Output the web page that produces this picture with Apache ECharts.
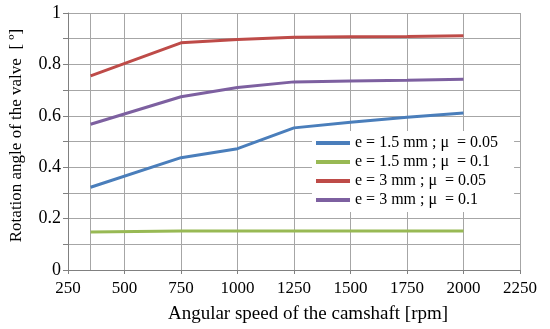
<!DOCTYPE html>
<html><head><meta charset="utf-8">
<script src="https://cdn.jsdelivr.net/npm/echarts@6/dist/echarts.min.js"></script>
<style>html,body{margin:0;padding:0;background:#fff}#c{width:550px;height:329px}</style>
</head><body><div id="c"></div>
<script>
const speeds = [350, 750, 1000, 1250, 1500, 1750, 2000];
const seriesNames = ['e = 1.5 mm ; \u03bc  = 0.05', 'e = 1.5 mm ; \u03bc  = 0.1', 'e = 3 mm ; \u03bc  = 0.05', 'e = 3 mm ; \u03bc  = 0.1'];
const e15mu005 = [0.322, 0.437, 0.472, 0.553, 0.575, 0.594, 0.611];
const e15mu01 = [0.148, 0.152, 0.152, 0.152, 0.152, 0.152, 0.152];
const e3mu005 = [0.755, 0.884, 0.897, 0.906, 0.908, 0.909, 0.911];
const e3mu01 = [0.567, 0.674, 0.710, 0.732, 0.735, 0.738, 0.742];
const colors = ['#4a7ebb', '#98b954', '#be4b48', '#7d60a0'];
const allValues = [e15mu005, e15mu01, e3mu005, e3mu01];
const font = 'Liberation Serif';
const chart = echarts.init(document.getElementById('c'));
const series = allValues.map((vals, i) => ({
  name: seriesNames[i], type: 'line', showSymbol: false, symbol: 'none',
  data: speeds.map((s, j) => [s, vals[j]]),
  lineStyle: { color: colors[i], width: 3 }, itemStyle: { color: colors[i] },
  z: 3
}));
series[0].markLine = {
  silent: true, symbol: 'none', label: { show: false },
  lineStyle: { color: '#a6a6a6', width: 1, type: 'solid' },
  data: [[{ coord: [speeds[0], 0] }, { coord: [speeds[0], 1] }]],
  z: 1
};
chart.setOption({
  animation: false,
  color: colors,
  grid: { left: 58, right: 30, top: 13, bottom: 57 },
  legend: {
    orient: 'vertical', left: 312, top: 131,
    backgroundColor: '#fff', padding: [4, 16, 4, 4],
    itemWidth: 34, itemHeight: 4, itemGap: 3, icon: 'rect',
    textStyle: { fontFamily: font, fontSize: 16, color: '#000' },
    data: seriesNames
  },
  xAxis: {
    type: 'value', min: 250, max: 2250, interval: 250,
    name: 'Angular speed of the camshaft [rpm]', nameLocation: 'middle', nameGap: 35,
    nameTextStyle: { fontFamily: font, fontSize: 19, color: '#000', padding: [0, 0, 0, 28] },
    axisLine: { lineStyle: { color: '#808080' } },
    axisTick: { show: true, length: 4, lineStyle: { color: '#808080' } },
    axisLabel: { fontFamily: font, fontSize: 17, color: '#000', margin: 10, formatter: v => String(v) },
    splitLine: { show: true, lineStyle: { color: '#a6a6a6' } }
  },
  yAxis: {
    type: 'value', min: 0, max: 1, interval: 0.1,
    name: 'Rotation angle of the valve  [ \u00ba]', nameLocation: 'middle', nameGap: 43,
    nameTextStyle: { fontFamily: font, fontSize: 17, color: '#000', padding: [0, 0, 0, 12] },
    axisLine: { show: true, lineStyle: { color: '#808080' } },
    axisTick: { show: true, length: 5, lineStyle: { color: '#808080' } },
    axisLabel: {
      fontFamily: font, fontSize: 18, color: '#000', margin: 7,
      formatter: v => (Math.round(v * 10) % 2 === 0) ? String(+v.toFixed(1)) : ''
    },
    splitLine: { show: true, lineStyle: { color: '#a6a6a6' } }
  },
  series: series
});
</script></body></html>
